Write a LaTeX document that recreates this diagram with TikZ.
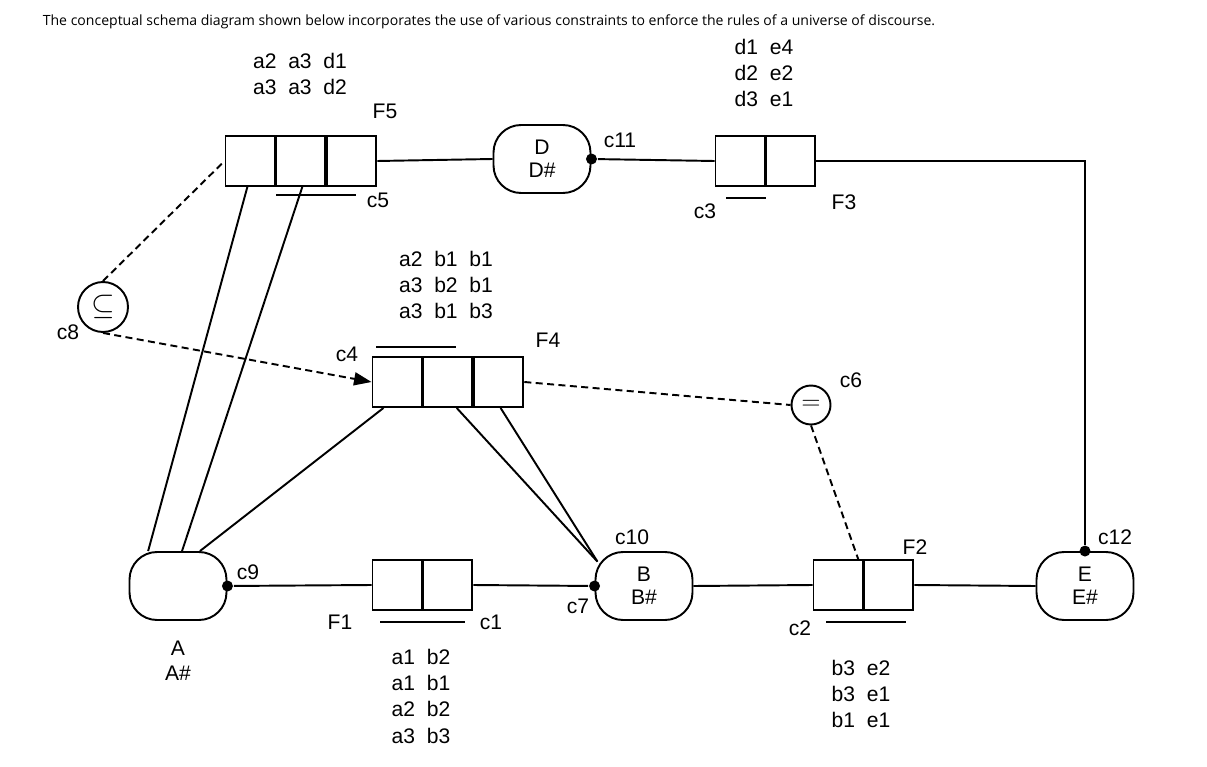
\documentclass[tikz,border=0pt]{standalone}
\usepackage{fontspec}
\setmainfont{Liberation Sans}
\newfontfamily\titlefont{Open Sans}
\usetikzlibrary{positioning, arrows.meta}
\tikzset{
    every path/.style={line width=1.1pt},
    ent/.style={draw, line width=1.1pt, rounded corners=5.5mm, minimum width=19.4mm, minimum height=13.6mm, align=center, font=\large, inner sep=0pt},
    cell/.style={draw, line width=1.1pt, minimum width=9.8mm, minimum height=10mm, inner sep=0pt},
    lbl/.style={font=\large, inner sep=1pt},
    pop/.style={font=\large, align=left, inner sep=0pt},
    dot/.style={circle, fill=black, inner sep=0pt, minimum size=2.2mm},
    cnstr/.style={draw, line width=1.1pt, circle, minimum size=10mm, inner sep=0pt, font=\LARGE},
    dsh/.style={line width=1.1pt, dash pattern=on 4pt off 2.5pt}
}
\begin{document}
\begin{tikzpicture}[x=0.02cm, y=-0.02cm]
\useasboundingbox (0,0) rectangle (1207,767);
\node[font=\titlefont\footnotesize, anchor=west] (title) at (36,22) {The conceptual schema diagram shown below incorporates the use of various constraints to enforce the rules of a universe of discourse.};

% entity types
\node[ent] (A) at (178,586) {};
\node[ent] (B) at (644,586) {B\\[-1pt]B\#};
\node[ent] (D) at (542,159) {D\\[-1pt]D\#};
\node[ent] (E) at (1085,586) {E\\[-1pt]E\#};
\node[lbl, align=center] (Alab) at (178,661) {A\\A\#};

% fact types
\node[cell] (f5a) at (250,161) {};
\node[cell, right=0pt of f5a] (f5b) {};
\node[cell, right=0pt of f5b] (f5c) {};
\node[cell] (f3a) at (740,161) {};
\node[cell, right=0pt of f3a] (f3b) {};
\node[cell] (f4a) at (397,382) {};
\node[cell, right=0pt of f4a] (f4b) {};
\node[cell, right=0pt of f4b] (f4c) {};
\node[cell] (f1a) at (397,585) {};
\node[cell, right=0pt of f1a] (f1b) {};
\node[cell] (f2a) at (838,585) {};
\node[cell, right=0pt of f2a] (f2b) {};

% roles
\draw (f5c.east) -- (D.west);
\node[dot] (c11dot) at (D.east) {};
\draw (c11dot) -- (f3a.west);
\node[dot] (c12dot) at (E.north) {};
\draw (f3b.east) -| (c12dot);
\node[dot] (c9dot) at (A.east) {};
\draw (c9dot) -- (f1a.west);
\node[dot] (c7dot) at (B.west) {};
\draw (f1b.east) -- (c7dot);
\draw (B.east) -- (f2a.west);
\draw (f2b.east) -- (E.west);
\draw ([xshift=-17pt]A.north) -- ([xshift=-16pt]f5a.south east);
\draw ([xshift=2.3pt]A.north) -- ([xshift=-13.7pt]f5b.south east);
\draw ([xshift=12.5pt]A.north) -- ([xshift=6.8pt]f4a.south west);
\coordinate (Bin) at ([xshift=-26.5pt,yshift=-6pt]B.north);
\draw ([xshift=5pt]f4b.south) -- (Bin);
\draw ([xshift=1pt]f4c.south) -- (Bin);

% uniqueness bars
\draw (276,195) -- (356,195);
\draw (726,198) -- (766,198);
\draw (376,347) -- (456,347);
\draw (380,622) -- (465,622);
\draw (826,622) -- (906,622);

% subset and equality constraints
\node[cnstr] (c8) at (103,307) {$\subseteq$};
\node[cnstr, minimum size=7.8mm, font=\Large] (c6) at (811,405) {$=$};
\draw[dsh] (c8.north) -- (f5a.west);
\draw[dsh, -{Triangle[length=3.5mm, width=2.6mm]}] (c8.south) -- (f4a.west);
\draw[dsh] (f4c.east) -- (c6.west);
\draw[dsh] (c6.south) -- ([xshift=-3pt]f2a.north east);

% labels
\node[lbl] (F5) at (385,111) {F5};
\node[lbl] (c5) at (378,200) {c5};
\node[lbl] (c11) at (620,140) {c11};
\node[lbl] (c3) at (705,211) {c3};
\node[lbl] (F3) at (844,202) {F3};
\node[lbl] (c8l) at (68,332) {c8};
\node[lbl] (c4) at (347,354) {c4};
\node[lbl] (F4) at (548,340) {F4};
\node[lbl] (c6l) at (851,380) {c6};
\node[lbl] (c9) at (248,572) {c9};
\node[lbl] (F1) at (340,622) {F1};
\node[lbl] (c1) at (491,622) {c1};
\node[lbl] (c7) at (578,606) {c7};
\node[lbl] (c10) at (632,537) {c10};
\node[lbl] (c2) at (800,628) {c2};
\node[lbl] (F2) at (915,547) {F2};
\node[lbl] (c12) at (1115,537) {c12};

% populations
\node[pop] (popF5) at (300,74) {a2\ \ a3\ \ d1\\[1pt]a3\ \ a3\ \ d2};
\node[pop] (popF3) at (764,73) {d1\ \ e4\\[1pt]d2\ \ e2\\[1pt]d3\ \ e1};
\node[pop] (popF4) at (446,285) {a2\ \ b1\ \ b1\\[1pt]a3\ \ b2\ \ b1\\[1pt]a3\ \ b1\ \ b3};
\node[pop] (popF1) at (421,696) {a1\ \ b2\\[1pt]a1\ \ b1\\[1pt]a2\ \ b2\\[1pt]a3\ \ b3};
\node[pop] (popF2) at (861,694) {b3\ \ e2\\[1pt]b3\ \ e1\\[1pt]b1\ \ e1};
\end{tikzpicture}
\end{document}
